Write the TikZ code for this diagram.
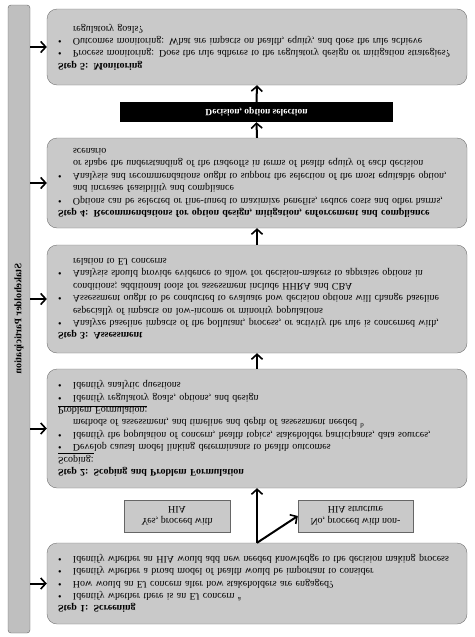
\documentclass[tikz,border=0pt]{standalone}
\usepackage{fontspec}
\setmainfont{Liberation Serif}
\usetikzlibrary{arrows.meta}

\newcommand{\bul}{\makebox[15pt][l]{\textbullet}}
\newcommand{\cont}{\hspace*{15pt}}

\begin{document}
\begin{tikzpicture}[x=1pt, y=1pt, yscale=-1, transform shape,
  >={Straight Barb[length=5pt, width=11pt, line width=1.6pt]},
  link/.style={->, line width=2pt},
  stepbox/.style={draw=gray!90!black, fill=gray!42, rounded corners=10pt,
    text width=398pt, inner xsep=11pt, align=left,
    font=\fontsize{10}{12.4}\selectfont},
  choice/.style={draw=gray!80!black, fill=gray!42, minimum width=#1,
    minimum height=32pt, align=center, inner sep=1pt,
    font=\fontsize{10}{12}\selectfont}]
  \useasboundingbox (0,0) rectangle (474,637);

  % stakeholder bar
  \node[draw=gray!80!black, fill=gray!50, rounded corners=3pt, rotate=90,
    minimum width=628pt, minimum height=22pt, inner sep=0pt,
    font=\bfseries\fontsize{10}{12}\selectfont] (Bar) at (19,319) {Stakeholder Participation};

  % steps
  \node[stepbox, minimum height=81pt] (Screen) at (257,583.5) {%
    \textbf{Step 1: Screening}\\
    \bul Identify whether there is an EJ concern \textsuperscript{a}\\
    \bul How would an EJ concern alter how stakeholders are engaged?\\
    \bul Identify whether a broad model of health would be important to consider\\
    \bul Identify whether an HIA would add new needed knowledge to the decision making process};

  \node[choice=106pt] (YesHIA) at (177,516) {Yes, proceed with\\HIA};
  \node[choice=115pt] (NoHIA) at (355.5,516) {No, proceed with non-\\HIA structure};

  \node[stepbox, minimum height=119pt] (Scope) at (257,428.5) {%
    \textbf{Step 2: Scoping and Problem Formulation}\\
    \underline{Scoping:}\\
    \bul Develop causal model linking determinants to health outcomes\\
    \bul Identify the population of concern, health topics, stakeholder participants, data sources,\\
    \cont methods of assessment, and timeline and depth of assessment needed \textsuperscript{b}\\
    \underline{Problem Formulation:}\\
    \bul Identify regulatory goals, options, and design\\
    \bul Identify analytic questions};

  \node[stepbox, minimum height=108pt] (Assess) at (257,299) {%
    \textbf{Step 3: Assessment}\\
    \bul Analyze baseline impacts of the pollutant, process, or activity the rule is concerned with,\\
    \cont especially of impacts on low-income or minority populations\\
    \bul Assessment ought to be conducted to evaluate how decision options will change baseline\\
    \cont conditions; additional tools for assessment include HHRA and CBA\\
    \bul Analysis should provide evidence to allow for decision-makers to appraise options in\\
    \cont relation to EJ concerns};

  \node[stepbox, minimum height=90pt] (Recommend) at (257,183) {%
    \textbf{Step 4: Recommendations for option design, mitigation, enforcement and compliance}\\
    \bul Options can be selected or fine-tuned to maximize benefits, reduce costs and other harms,\\
    \cont and increase feasibility and compliance\\
    \bul Analysis and recommendations ought to support the selection of the most equitable option,\\
    \cont or shape the understanding of the tradeoffs in terms of health equity of each decision\\
    \cont scenario};

  \node[fill=black, text=white, minimum width=273pt, minimum height=20pt,
    font=\bfseries\fontsize{9.5}{11}\selectfont] (Decision) at (256.5,112) {Decision, option selection};

  \node[stepbox, minimum height=76pt] (Monitor) at (257,47) {%
    \textbf{Step 5: Monitoring}\\
    \bul Process monitoring: Does the rule adheres to the regulatory design or mitigation strategies?\\
    \bul Outcomes monitoring: What are impacts on health, equity, and does the rule achieve\\
    \cont regulatory goals?};

  % flow
  \draw[link] (Screen.south) -- (Scope.north);
  \draw[link] (Screen.south) -- (NoHIA.west);
  \draw[link] (Scope.south) -- (Assess.north);
  \draw[link] (Assess.south) -- (Recommend.north);
  \draw[link] (Recommend.south) -- (Decision.north);
  \draw[link] (Decision.south) -- (Monitor.north);

  % participation arrows
  \foreach \s in {Screen, Scope, Assess, Recommend, Monitor}
    \draw[link] (Bar.south |- \s.west) -- (\s.west);
\end{tikzpicture}
\end{document}
